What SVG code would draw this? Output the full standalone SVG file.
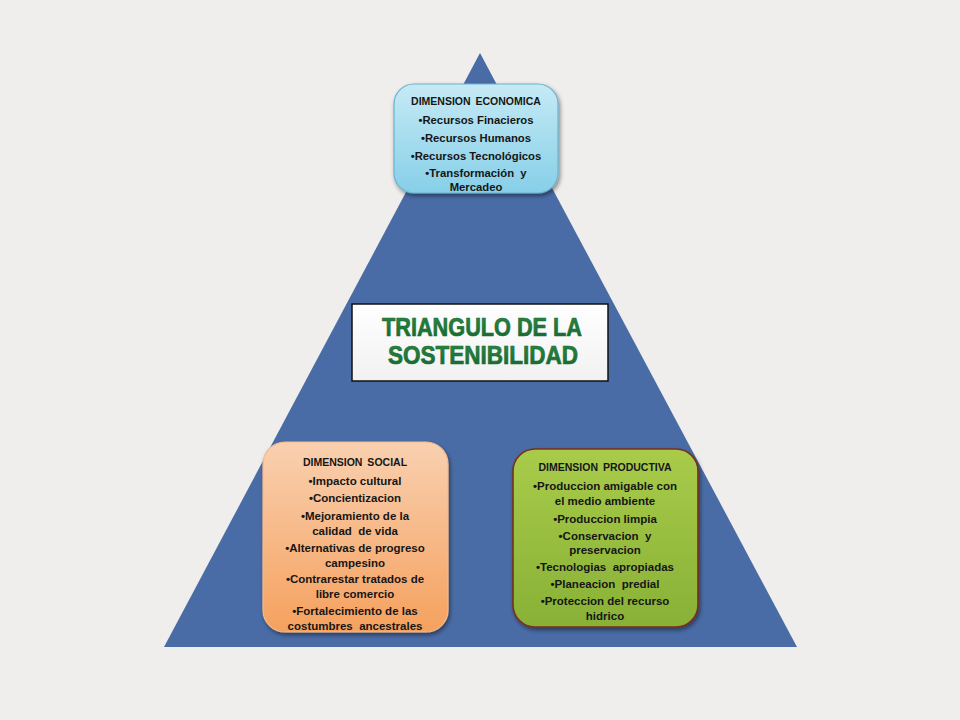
<svg xmlns="http://www.w3.org/2000/svg" width="960" height="720" viewBox="0 0 960 720">
  <defs>
    <linearGradient id="gEcon" x1="0" y1="0" x2="0" y2="1">
      <stop offset="0" stop-color="#c6eaf5"/>
      <stop offset="1" stop-color="#86cfe8"/>
    </linearGradient>
    <linearGradient id="gSocial" x1="0" y1="0" x2="0" y2="1">
      <stop offset="0" stop-color="#f9d0b0"/>
      <stop offset="1" stop-color="#f5a15e"/>
    </linearGradient>
    <linearGradient id="gProd" x1="0" y1="0" x2="0" y2="1">
      <stop offset="0" stop-color="#a9cb4a"/>
      <stop offset="1" stop-color="#88b136"/>
    </linearGradient>
    <linearGradient id="gTitle" x1="0" y1="0" x2="0" y2="1">
      <stop offset="0" stop-color="#ffffff"/>
      <stop offset="1" stop-color="#f1f1f1"/>
    </linearGradient>
    <linearGradient id="gTitleText" x1="0" y1="0" x2="0" y2="1">
      <stop offset="0" stop-color="#2c8a45"/>
      <stop offset="1" stop-color="#15652d"/>
    </linearGradient>
    <filter id="shadow" x="-20%" y="-20%" width="140%" height="140%">
      <feDropShadow dx="1.5" dy="2.5" stdDeviation="2" flood-color="#000" flood-opacity="0.45"/>
    </filter>
  </defs>
  <style>
    .hdr { font-family: "Liberation Sans", Arial, sans-serif; font-weight: bold; font-size: 10.5px; fill: #161616; text-anchor: middle; word-spacing: 2px; }
    .item { font-family: "Liberation Sans", Arial, sans-serif; font-weight: bold; font-size: 11.5px; fill: #161616; text-anchor: middle; }
    .itemE { font-family: "Liberation Sans", Arial, sans-serif; font-weight: bold; font-size: 11.3px; fill: #161616; text-anchor: middle; }
    .title { font-family: "Liberation Sans", Arial, sans-serif; font-weight: bold; font-size: 26px; fill: url(#gTitleText); stroke: #1b6e33; stroke-width: 0.7px; text-anchor: middle; }
  </style>

  <rect x="0" y="0" width="960" height="720" fill="#efeeec"/>

  <g id="pyramid">
    <polygon points="480,53 164,647 797,647" fill="#4a6ca6"/>
  </g>

  <g id="connectors"></g>

  <g id="econ">
    <rect x="394" y="84" width="164" height="109" rx="20" fill="url(#gEcon)" stroke="#6ab3d0" stroke-width="1.2" filter="url(#shadow)"/>
    <text class="hdr" x="476" y="105">DIMENSION ECONOMICA</text>
    <text class="itemE" x="476" y="124">•Recursos Finacieros</text>
    <text class="itemE" x="476" y="142">•Recursos Humanos</text>
    <text class="itemE" x="476" y="160">•Recursos Tecnológicos</text>
    <text class="itemE" x="476" y="177" xml:space="preserve">•Transformación  y</text>
    <text class="itemE" x="476" y="191">Mercadeo</text>
  </g>

  <g id="title">
    <rect x="352" y="304" width="256" height="77" fill="url(#gTitle)" stroke="#111" stroke-width="1.5"/>
    <text class="title" x="482" y="336" textLength="200" lengthAdjust="spacingAndGlyphs">TRIANGULO DE LA</text>
    <text class="title" x="483" y="364" textLength="190" lengthAdjust="spacingAndGlyphs">SOSTENIBILIDAD</text>
  </g>

  <g id="social">
    <rect x="263" y="442" width="185" height="190" rx="22" fill="url(#gSocial)" stroke="#f7b989" stroke-width="1.2" filter="url(#shadow)"/>
    <text class="hdr" x="355" y="466">DIMENSION SOCIAL</text>
    <text class="item" x="355" y="485">•Impacto cultural</text>
    <text class="item" x="355" y="502">•Concientizacion</text>
    <text class="item" x="355" y="520">•Mejoramiento de la</text>
    <text class="item" x="355" y="535" xml:space="preserve">calidad  de vida</text>
    <text class="item" x="355" y="552">•Alternativas de progreso</text>
    <text class="item" x="355" y="567">campesino</text>
    <text class="item" x="355" y="583">•Contrarestar tratados de</text>
    <text class="item" x="355" y="598">libre comercio</text>
    <text class="item" x="355" y="615">•Fortalecimiento de las</text>
    <text class="item" x="355" y="630" xml:space="preserve">costumbres  ancestrales</text>
  </g>

  <g id="productiva">
    <rect x="513" y="449" width="185" height="178" rx="22" fill="url(#gProd)" stroke="#7a2f1c" stroke-width="1.6" filter="url(#shadow)"/>
    <text class="hdr" x="605" y="471">DIMENSION PRODUCTIVA</text>
    <text class="item" x="605" y="490">•Produccion amigable con</text>
    <text class="item" x="605" y="505">el medio ambiente</text>
    <text class="item" x="605" y="523">•Produccion limpia</text>
    <text class="item" x="605" y="540" xml:space="preserve">•Conservacion  y</text>
    <text class="item" x="605" y="554">preservacion</text>
    <text class="item" x="605" y="571" xml:space="preserve">•Tecnologias  apropiadas</text>
    <text class="item" x="605" y="588" xml:space="preserve">•Planeacion  predial</text>
    <text class="item" x="605" y="605">•Proteccion del recurso</text>
    <text class="item" x="605" y="620">hidrico</text>
  </g>
</svg>
